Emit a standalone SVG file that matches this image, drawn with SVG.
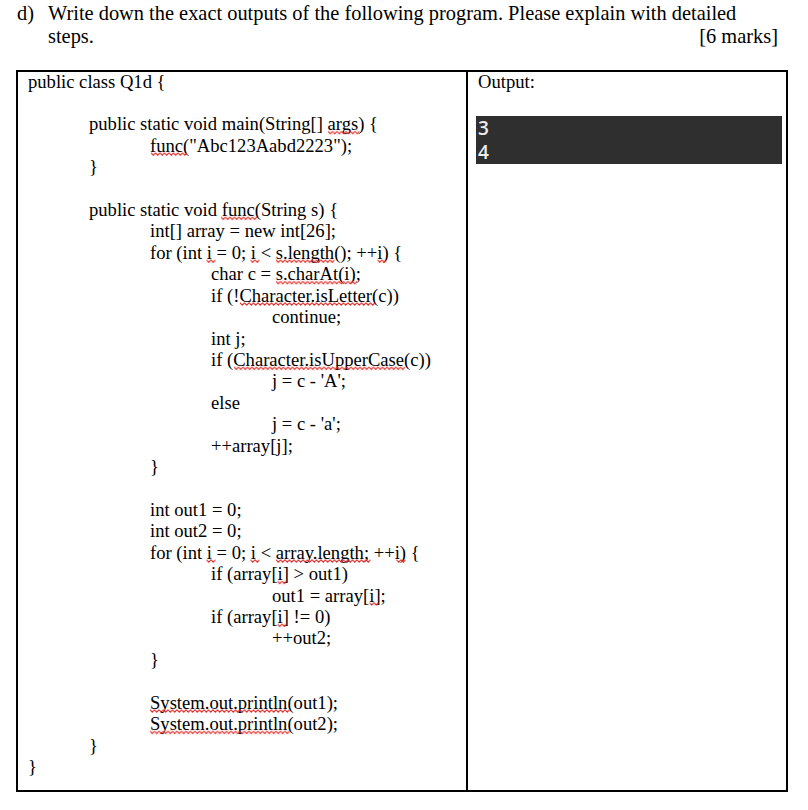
<svg xmlns="http://www.w3.org/2000/svg" width="808" height="810" viewBox="0 0 808 810">
<style>
.t{font-family:"Liberation Serif","Times New Roman",serif;font-size:20.4px;fill:#000}
.c{font-family:"Liberation Serif","Times New Roman",serif;font-size:18.6px;fill:#000}
.o{font-family:"Open Sans","Noto Sans","DejaVu Sans",sans-serif;font-size:19px;font-weight:600;fill:#ececec}
.sq{fill:url(#wave)}
</style>
<defs>
<pattern id="wave" x="0" y="0" width="4.5" height="4" patternUnits="userSpaceOnUse">
<path d="M-0.5,0.2 L0,0.8 L2.25,3.2 L4.5,0.8 L5,0.2" fill="none" stroke="#e0231e" stroke-width="1.1"/>
</pattern>
</defs>
<rect width="808" height="810" fill="#fff"/>
<g id="title">
<text class="t" x="17" y="20">d)</text>
<text class="t" x="48" y="20">Write down the exact outputs of the following program. Please explain with detailed</text>
<text class="t" x="48" y="43">steps.</text>
<text class="t" x="778" y="43" text-anchor="end">[6 marks]</text>
</g>
<g id="table" fill="none" stroke="#000" stroke-width="2">
<rect x="17" y="71" width="770" height="720"/>
<line x1="467" y1="71" x2="467" y2="791"/>
</g>
<g id="output">
<text class="c" x="478" y="87.5">Output:</text>
<rect x="476" y="116" width="306" height="48" fill="#2f2f2f"/>
<text class="o" x="478" y="135">3</text>
<text class="o" x="478" y="158.5">4</text>
</g>
<g id="code">
<text class="c" x="28" y="87.5">public class Q1d {</text>
<text class="c" x="89" y="130.3">public static void main(String[] args) {</text>
<text class="c" x="150" y="151.8">func("Abc123Aabd2223");</text>
<text class="c" x="89" y="173.2">}</text>
<text class="c" x="89" y="216">public static void func(String s) {</text>
<text class="c" x="150" y="237.4">int[] array = new int[26];</text>
<text class="c" x="150" y="258.9">for (int i = 0; i &lt; s.length(); ++i) {</text>
<text class="c" x="211" y="280.3">char c = s.charAt(i);</text>
<text class="c" x="211" y="301.7">if (!Character.isLetter(c))</text>
<text class="c" x="272" y="323.1">continue;</text>
<text class="c" x="211" y="344.5">int j;</text>
<text class="c" x="211" y="366">if (Character.isUpperCase(c))</text>
<text class="c" x="272" y="387.4">j = c - 'A';</text>
<text class="c" x="211" y="408.8">else</text>
<text class="c" x="272" y="430.2">j = c - 'a';</text>
<text class="c" x="211" y="451.6">++array[j];</text>
<text class="c" x="150" y="473.1">}</text>
<text class="c" x="150" y="515.9">int out1 = 0;</text>
<text class="c" x="150" y="537.3">int out2 = 0;</text>
<text class="c" x="150" y="558.7">for (int i = 0; i &lt; array.length; ++i) {</text>
<text class="c" x="211" y="580.2">if (array[i] &gt; out1)</text>
<text class="c" x="272" y="601.6">out1 = array[i];</text>
<text class="c" x="211" y="623">if (array[i] != 0)</text>
<text class="c" x="272" y="644.4">++out2;</text>
<text class="c" x="150" y="665.8">}</text>
<text class="c" x="150" y="708.7">System.out.println(out1);</text>
<text class="c" x="150" y="730.1">System.out.println(out2);</text>
<text class="c" x="89" y="751.5">}</text>
<text class="c" x="28" y="772.9">}</text>
</g>
<g id="spellcheck">
<rect class="sq" width="31.5" height="4" transform="translate(328,130.6)"/>
<rect class="sq" width="36" height="4" transform="translate(151,152.1)"/>
<rect class="sq" width="36" height="4" transform="translate(221,216.3)"/>
<rect class="sq" width="9" height="4" transform="translate(206.5,259.2)"/>
<rect class="sq" width="9" height="4" transform="translate(250.5,259.2)"/>
<rect class="sq" width="58.5" height="4" transform="translate(276,259.2)"/>
<rect class="sq" width="9" height="4" transform="translate(377.5,259.2)"/>
<rect class="sq" width="81" height="4" transform="translate(276,280.6)"/>
<rect class="sq" width="135" height="4" transform="translate(240,302)"/>
<rect class="sq" width="171" height="4" transform="translate(234,366.3)"/>
<rect class="sq" width="9" height="4" transform="translate(206.5,559)"/>
<rect class="sq" width="9" height="4" transform="translate(250.5,559)"/>
<rect class="sq" width="94.5" height="4" transform="translate(276,559)"/>
<rect class="sq" width="9" height="4" transform="translate(396.5,559)"/>
<rect class="sq" width="9" height="4" transform="translate(277.5,580.5)"/>
<rect class="sq" width="9" height="4" transform="translate(369.5,601.9)"/>
<rect class="sq" width="9" height="4" transform="translate(277.5,623.3)"/>
<rect class="sq" width="139.5" height="4" transform="translate(150,709)"/>
<rect class="sq" width="139.5" height="4" transform="translate(150,730.4)"/>
</g>
</svg>
